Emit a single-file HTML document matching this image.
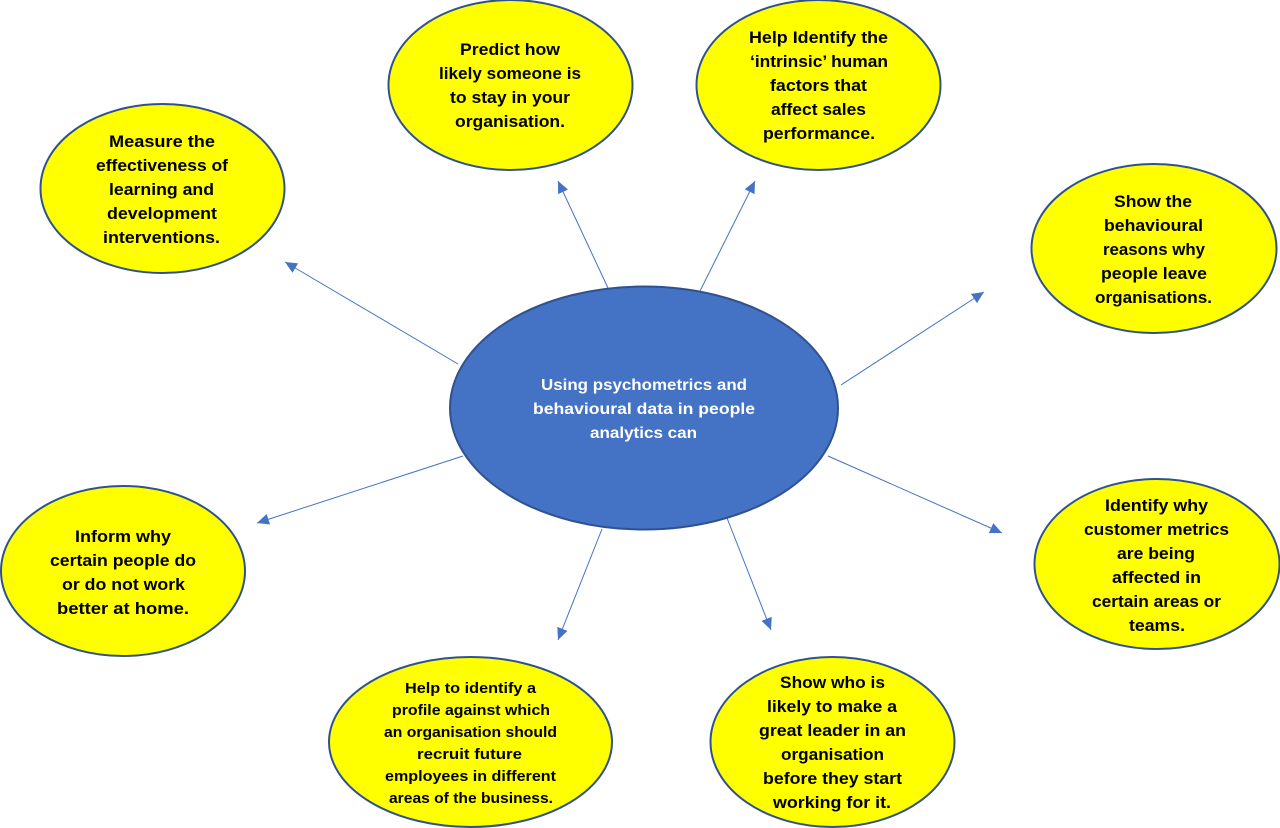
<!DOCTYPE html>
<html>
<head>
<meta charset="utf-8">
<style>
html,body{margin:0;padding:0;background:#fff;}
svg{display:block;}
text{font-family:"Liberation Sans",Arial,sans-serif;font-weight:bold;font-size:16.5px;fill:#000;text-anchor:middle;}
.s{font-size:15px;}
.w{fill:#fff;font-size:16px;}
.e{fill:#ffff00;stroke:#2f528f;stroke-width:2;}
.l{stroke:#4472c4;stroke-width:1;fill:none;marker-end:url(#a);}
</style>
</head>
<body>
<svg width="1280" height="828" viewBox="0 0 1280 828" xmlns="http://www.w3.org/2000/svg">
<defs>
<marker id="a" markerUnits="userSpaceOnUse" markerWidth="13" markerHeight="11" refX="12" refY="5.5" orient="auto">
<path d="M0,0 L12,5.5 L0,11 Z" fill="#4472c4"/>
</marker>
</defs>

<line class="l" x1="608" y1="288" x2="558" y2="181"/>
<line class="l" x1="700" y1="291" x2="755" y2="181"/>
<line class="l" x1="458" y1="364" x2="285" y2="262"/>
<line class="l" x1="841" y1="385" x2="984" y2="292"/>
<line class="l" x1="463" y1="456" x2="257" y2="523"/>
<line class="l" x1="828" y1="456" x2="1002" y2="533"/>
<line class="l" x1="602" y1="529" x2="558" y2="640"/>
<line class="l" x1="727" y1="518" x2="771" y2="630"/>

<ellipse cx="644" cy="408" rx="194" ry="121.5" fill="#4472c4" stroke="#2f528f" stroke-width="2"/>
<ellipse class="e" cx="162.500" cy="188.500" rx="122" ry="84.500"/>
<ellipse class="e" cx="510.500" cy="85" rx="122" ry="85"/>
<ellipse class="e" cx="818.500" cy="85" rx="122" ry="85"/>
<ellipse class="e" cx="1154" cy="248.500" rx="122.500" ry="84.500"/>
<ellipse class="e" cx="1157" cy="564" rx="122.500" ry="85"/>
<ellipse class="e" cx="832.500" cy="742" rx="122" ry="85"/>
<ellipse class="e" cx="470.500" cy="742" rx="141.500" ry="85"/>
<ellipse class="e" cx="123" cy="571" rx="122" ry="85"/>

<text class="w" x="644" y="390" textLength="206" lengthAdjust="spacingAndGlyphs">Using psychometrics and</text>
<text class="w" x="644" y="414" textLength="222" lengthAdjust="spacingAndGlyphs">behavioural data in people</text>
<text class="w" x="643.500" y="438" textLength="107" lengthAdjust="spacingAndGlyphs">analytics can</text>

<text x="162" y="147" textLength="106" lengthAdjust="spacingAndGlyphs">Measure the</text>
<text x="162" y="171" textLength="132" lengthAdjust="spacingAndGlyphs">effectiveness of</text>
<text x="161.500" y="195" textLength="105" lengthAdjust="spacingAndGlyphs">learning and</text>
<text x="162" y="219" textLength="110" lengthAdjust="spacingAndGlyphs">development</text>
<text x="161.500" y="243" textLength="117" lengthAdjust="spacingAndGlyphs">interventions.</text>

<text x="510" y="55" textLength="100" lengthAdjust="spacingAndGlyphs">Predict how</text>
<text x="510" y="79" textLength="142" lengthAdjust="spacingAndGlyphs">likely someone is</text>
<text x="510" y="103" textLength="120" lengthAdjust="spacingAndGlyphs">to stay in your</text>
<text x="510" y="127" textLength="110" lengthAdjust="spacingAndGlyphs">organisation.</text>

<text x="818.500" y="43" textLength="139" lengthAdjust="spacingAndGlyphs">Help Identify the</text>
<text x="819" y="67" textLength="138" lengthAdjust="spacingAndGlyphs">‘intrinsic’ human</text>
<text x="818.500" y="91" textLength="97" lengthAdjust="spacingAndGlyphs">factors that</text>
<text x="818.500" y="115" textLength="95" lengthAdjust="spacingAndGlyphs">affect sales</text>
<text x="819" y="139" textLength="112" lengthAdjust="spacingAndGlyphs">performance.</text>

<text x="1153" y="207" textLength="78" lengthAdjust="spacingAndGlyphs">Show the</text>
<text x="1153.500" y="231" textLength="99" lengthAdjust="spacingAndGlyphs">behavioural</text>
<text x="1154" y="255" textLength="102" lengthAdjust="spacingAndGlyphs">reasons why</text>
<text x="1154" y="279" textLength="106" lengthAdjust="spacingAndGlyphs">people leave</text>
<text x="1153.500" y="303" textLength="117" lengthAdjust="spacingAndGlyphs">organisations.</text>

<text x="1156.500" y="511" textLength="103" lengthAdjust="spacingAndGlyphs">Identify why</text>
<text x="1156.500" y="535" textLength="145" lengthAdjust="spacingAndGlyphs">customer metrics</text>
<text x="1156" y="559" textLength="78" lengthAdjust="spacingAndGlyphs">are being</text>
<text x="1156.500" y="583" textLength="89" lengthAdjust="spacingAndGlyphs">affected in</text>
<text x="1156.500" y="607" textLength="129" lengthAdjust="spacingAndGlyphs">certain areas or</text>
<text x="1157" y="631" textLength="56" lengthAdjust="spacingAndGlyphs">teams.</text>

<text x="832.500" y="688" textLength="105" lengthAdjust="spacingAndGlyphs">Show who is</text>
<text x="832" y="712" textLength="130" lengthAdjust="spacingAndGlyphs">likely to make a</text>
<text x="832.500" y="736" textLength="147" lengthAdjust="spacingAndGlyphs">great leader in an</text>
<text x="832.500" y="760" textLength="103" lengthAdjust="spacingAndGlyphs">organisation</text>
<text x="832.500" y="784" textLength="139" lengthAdjust="spacingAndGlyphs">before they start</text>
<text x="832" y="808" textLength="118" lengthAdjust="spacingAndGlyphs">working for it.</text>

<text class="s" x="470.500" y="693" textLength="131" lengthAdjust="spacingAndGlyphs">Help to identify a</text>
<text class="s" x="471" y="715" textLength="158" lengthAdjust="spacingAndGlyphs">profile against which</text>
<text class="s" x="470.500" y="737" textLength="173" lengthAdjust="spacingAndGlyphs">an organisation should</text>
<text class="s" x="469.500" y="759" textLength="105" lengthAdjust="spacingAndGlyphs">recruit future</text>
<text class="s" x="470.500" y="781" textLength="171" lengthAdjust="spacingAndGlyphs">employees in different</text>
<text class="s" x="471" y="803" textLength="164" lengthAdjust="spacingAndGlyphs">areas of the business.</text>

<text x="123" y="542" textLength="96" lengthAdjust="spacingAndGlyphs">Inform why</text>
<text x="123" y="566" textLength="146" lengthAdjust="spacingAndGlyphs">certain people do</text>
<text x="123.500" y="590" textLength="123" lengthAdjust="spacingAndGlyphs">or do not work</text>
<text x="123" y="614" textLength="132" lengthAdjust="spacingAndGlyphs">better at home.</text>
</svg>
</body>
</html>
